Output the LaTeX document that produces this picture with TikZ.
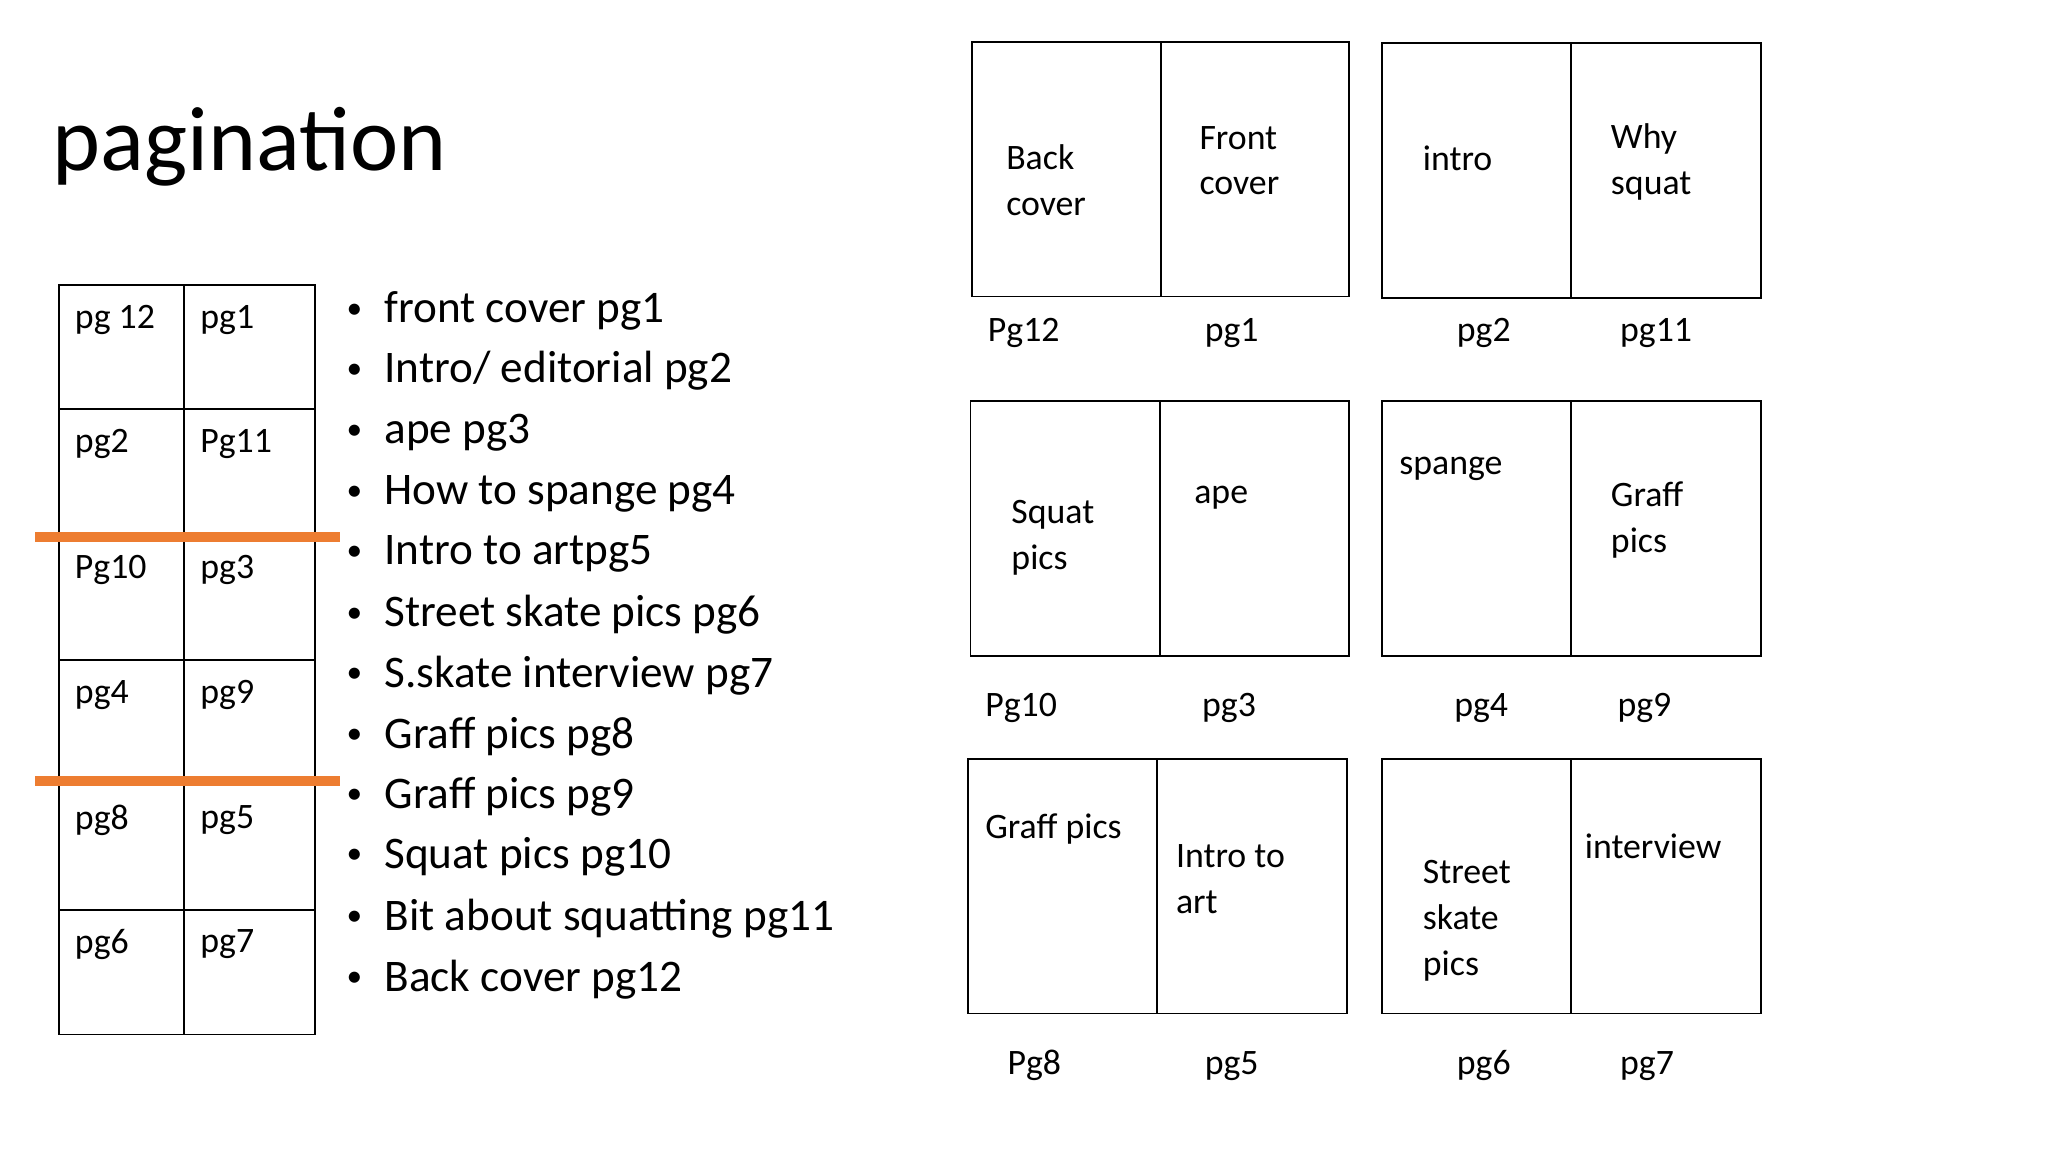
\documentclass[tikz,border=0pt]{standalone}
\usepackage{fontspec}
\setmainfont{Carlito}
\definecolor{accent}{HTML}{ED7D31}
\begin{document}
\begin{tikzpicture}[x=0.5pt,y=-0.5pt,
  lab/.style={anchor=west,inner sep=0,font=\fontsize{13.7}{17.5}\selectfont,align=left},
  li/.style={anchor=west,inner sep=0,font=\fontsize{17.3}{20}\selectfont},
  bx/.style={draw,line width=0.7pt},
  orange/.style={draw=accent,line width=4pt}]
\useasboundingbox (0,0) rectangle (1568,882);
\node[anchor=west,inner sep=0,font=\fontsize{35}{40}\selectfont] (title) at (40,112) {pagination};
% left grid
\draw[line width=0.7pt] (45,218) rectangle (241,792);
\draw[line width=0.7pt] (141,218) -- (141,792);
\foreach \y in {313,409,505,601,697} \draw[line width=0.7pt] (45,\y) -- (241,\y);
\foreach \y/\a/\b [count=\i] in {245/pg 12/pg1,340/pg2/Pg11,436/Pg10/pg3,532/pg4/pg9,628/pg8/pg5,723/pg6/pg7}{
  \node[lab] (gl\i) at (57,\y) {\a};
  \node[lab] (gr\i) at (153,\y) {\b};}
\path[orange] (27,411) -- (260,411);
\path[orange] (27,598) -- (260,598);
% list
\foreach \y/\t [count=\i] in {238/front cover pg1,284/{Intro/ editorial pg2},331/ape pg3,378/How to spange pg4,424/Intro to artpg5,471/Street skate pics pg6,517/S.skate interview pg7,564/Graff pics pg8,610/Graff pics pg9,656/Squat pics pg10,703/Bit about squatting pg11,750/Back cover pg12}{
  \node[anchor=west,inner sep=0,font=\fontsize{12}{14}\selectfont] (b\i) at (265,\y) {•};
  \node[li] (l\i) at (294,\y) {\t};}
% boxes
\draw[bx] (744,32) rectangle (1033,227); \draw[bx] (889,32) -- (889,227);
\draw[bx] (1058,33) rectangle (1348,228); \draw[bx] (1203,33) -- (1203,228);
\draw[bx] (743,307) rectangle (1033,502); \draw[bx] (888,307) -- (888,502);
\draw[bx] (1058,307) rectangle (1348,502); \draw[bx] (1203,307) -- (1203,502);
\draw[bx] (741,581) rectangle (1031,776); \draw[bx] (886,581) -- (886,776);
\draw[bx] (1058,581) rectangle (1348,776); \draw[bx] (1203,581) -- (1203,776);
% inner texts
\node[lab] (t1) at (770,138) {Back\\cover};
\node[lab] (t2) at (918,123) {Front\\cover};
\node[lab] (t3) at (1089,121) {intro};
\node[lab] (t4) at (1233,124) {Why\\squat};
\node[lab] (t5) at (774,412) {Squat\\pics};
\node[lab] (t6) at (914,381) {ape};
\node[lab] (t7) at (1071,359) {spange};
\node[lab] (t8) at (1233,398) {Graff\\pics};
\node[lab] (t9) at (754,635) {Graff pics};
\node[lab] (t10) at (900,673) {Intro to\\art};
\node[lab] (t11) at (1089,705) {Street\\skate\\pics};
\node[lab] (t12) at (1213,648) {interview};
% page numbers
\node[lab] (p1) at (756,255) {Pg12}; \node[lab] (p2) at (922,255) {pg1};
\node[lab] (p3) at (1115,255) {pg2}; \node[lab] (p4) at (1240,255) {pg11};
\node[lab] (p5) at (754,542) {Pg10}; \node[lab] (p6) at (920,542) {pg3};
\node[lab] (p7) at (1113,542) {pg4}; \node[lab] (p8) at (1238,542) {pg9};
\node[lab] (p9) at (771,816) {Pg8}; \node[lab] (p10) at (922,816) {pg5};
\node[lab] (p11) at (1115,816) {pg6}; \node[lab] (p12) at (1240,816) {pg7};
\end{tikzpicture}
\end{document}
